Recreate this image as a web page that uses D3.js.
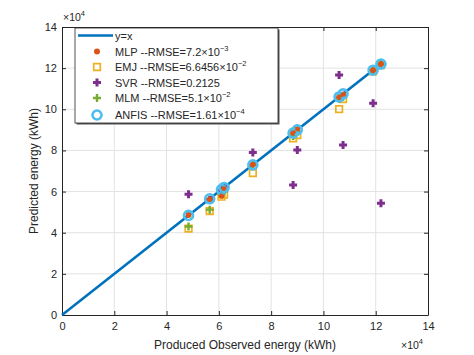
<!DOCTYPE html>
<html><head><meta charset="utf-8">
<script src="https://cdn.jsdelivr.net/npm/d3@7"></script>
<style>body{margin:0;background:#fff}svg{display:block}text{font-family:"Liberation Sans",Arial,sans-serif}</style>
</head><body><svg id="c" width="474" height="355"></svg>
<script>
// Data (x values in units of 1e4 kWh)
const observed = [4.84, 5.65, 6.1, 6.2, 7.3, 8.84, 9.0, 10.6, 10.75, 11.9, 12.2];
const mlp   = [4.86, 5.62, 5.8, 6.15, 7.32, 8.86, 9.04, 10.6, 10.72, 11.9, 12.2];
const emj   = [4.2, 5.05, 5.75, 5.85, 6.9, 8.59, 8.75, 10.01, 10.5, 11.85, 12.15];
const svr   = [5.87, 5.6, 6.05, 6.25, 7.9, 6.32, 8.02, 11.67, 8.26, 10.29, 5.43];
const mlm   = [4.3, 5.12, 5.9, 6.0, 7.3, 8.7, 8.9, 10.5, 10.6, 11.9, 12.2];
const anfis = [4.84, 5.65, 6.1, 6.2, 7.3, 8.84, 9.0, 10.6, 10.75, 11.9, 12.2];
const ticks = [0, 2, 4, 6, 8, 10, 12, 14];
const legendLabels = ["y=x", "MLP --RMSE=7.2\u00d710", "EMJ --RMSE=6.6456\u00d710", "SVR --RMSE=0.2125", "MLM --RMSE=5.1\u00d710", "ANFIS --RMSE=1.61\u00d710"];
const legendSup = ["", "\u22123", "\u22122", "", "\u22122", "\u22124"];

const svg = d3.select("#c");
const L = 62, R = 428, T = 27, B = 315;
const x = d3.scaleLinear().domain([0, 14]).range([L, R]);
const y = d3.scaleLinear().domain([0, 14]).range([B, T]);
const txt = "#262626";

// grid
const g = svg.append("g");
g.selectAll(".gx").data(ticks.slice(1, -1)).join("line")
  .attr("x1", d => x(d)).attr("x2", d => x(d)).attr("y1", T).attr("y2", B)
  .attr("stroke", "#e3e3e3").attr("stroke-width", 1);
g.selectAll(".gy").data(ticks.slice(1, -1)).join("line")
  .attr("y1", d => y(d)).attr("y2", d => y(d)).attr("x1", L).attr("x2", R)
  .attr("stroke", "#e3e3e3").attr("stroke-width", 1);

// axes
const xa = svg.append("g").attr("transform", `translate(0,${B})`)
  .call(d3.axisBottom(x).tickValues(ticks).tickSizeInner(-4).tickSizeOuter(0).tickPadding(7));
const xa2 = svg.append("g").attr("transform", `translate(0,${T})`)
  .call(d3.axisTop(x).tickValues(ticks).tickSizeInner(-4).tickSizeOuter(0).tickFormat(""));
const ya = svg.append("g").attr("transform", `translate(${L},0)`)
  .call(d3.axisLeft(y).tickValues(ticks).tickSizeInner(-4).tickSizeOuter(0).tickPadding(5));
const ya2 = svg.append("g").attr("transform", `translate(${R},0)`)
  .call(d3.axisRight(y).tickValues(ticks).tickSizeInner(-4).tickSizeOuter(0).tickFormat(""));
[xa, xa2, ya, ya2].forEach(a => {
  a.select(".domain").attr("stroke", "#262626").attr("stroke-width", 1);
  a.selectAll(".tick line").attr("stroke", "#262626");
  a.selectAll("text").attr("fill", txt).style("font-size", "11px");
});

// diagonal
svg.append("line").attr("x1", x(0)).attr("y1", y(0)).attr("x2", x(d3.max(observed))).attr("y2", y(d3.max(observed)))
  .attr("stroke", "#0072BD").attr("stroke-width", 2.6);

const cBlue = "#0072BD", cRed = "#D95319", cYel = "#EDB120", cPur = "#7E2F8E", cGrn = "#77AC30", cCyan = "#4DBEEE";
const plusPath = (s, w) => { const a = s, b = w / 2; return `M${-a},${-b}H${-b}V${-a}H${b}V${-b}H${a}V${b}H${b}V${a}H${-b}V${b}H${-a}Z`; };

function drawSeries(vals, kind) {
  const sel = svg.append("g").selectAll("path").data(observed.map((o, i) => [o, vals[i]])).join("path")
    .attr("transform", d => `translate(${x(d[0])},${y(d[1])})`);
  styleMarker(sel, kind);
}
function styleMarker(sel, kind, small) {
  if (kind === "mlp") sel.attr("d", d3.symbol(d3.symbolCircle, small ? 16 : 28)).attr("fill", cRed);
  if (kind === "emj") sel.attr("d", "M-3.3,-3.3H3.3V3.3H-3.3Z").attr("fill", "none").attr("stroke", cYel).attr("stroke-width", 1.7);
  if (kind === "svr") sel.attr("d", plusPath(4, 3)).attr("fill", cPur);
  if (kind === "mlm") sel.attr("d", plusPath(4, 2.4)).attr("fill", cGrn);
  if (kind === "anfis") sel.attr("d", d3.symbol(d3.symbolCircle, 64)).attr("fill", "none").attr("stroke", cCyan).attr("stroke-width", 2.6);
}
function drawSmall(vals, kind) {
  const sel = svg.append("g").selectAll("path").data(observed.map((o, i) => [o, vals[i]])).join("path")
    .attr("transform", d => `translate(${x(d[0])},${y(d[1])})`);
  styleMarker(sel, kind, true);
}
drawSeries(svr, "svr");
drawSeries(emj, "emj");
drawSeries(mlm, "mlm");
drawSeries(mlp, "mlp");
drawSeries(anfis, "anfis");
drawSmall(mlp, "mlp");

// legend
const lg = svg.append("g");
const lx = 75, ly = 28, lw = 203, lh = 95;
lg.append("rect").attr("x", lx + 1.5).attr("y", ly + 1.5).attr("width", lw).attr("height", lh).attr("fill", "#555");
lg.append("rect").attr("x", lx).attr("y", ly).attr("width", lw).attr("height", lh).attr("fill", "#fff").attr("stroke", "#262626").attr("stroke-width", 0.8);
const rowY = [35.5, 51.5, 67, 82.5, 98, 115];
lg.append("line").attr("x1", 78).attr("x2", 113).attr("y1", rowY[0]).attr("y2", rowY[0]).attr("stroke", cBlue).attr("stroke-width", 2.6);
["mlp", "emj", "svr", "mlm", "anfis"].forEach((k, i) => {
  const m = lg.append("path").attr("transform", `translate(97,${rowY[i + 1]})`);
  styleMarker(m, k);
});
legendLabels.forEach((t, i) => {
  const te = lg.append("text").attr("x", 115).attr("y", rowY[i] + 4).attr("fill", txt).style("font-size", "11px").text(t);
  if (legendSup[i]) te.append("tspan").attr("dy", -5).style("font-size", "7.5px").text(legendSup[i]);
});

// exponent labels
function expo(xp, yp) {
  const t = svg.append("text").attr("x", xp).attr("y", yp).attr("fill", txt).style("font-size", "10.5px").text("\u00d710");
  t.append("tspan").attr("dy", -5).style("font-size", "7.5px").text("4");
}
expo(63, 21);
expo(401, 349);

// axis labels
svg.append("text").attr("x", (L + R) / 2).attr("y", 349).attr("text-anchor", "middle").attr("fill", txt).style("font-size", "12px").text("Produced Observed energy (kWh)");
svg.append("text").attr("transform", `translate(38,${(T + B) / 2}) rotate(-90)`).attr("text-anchor", "middle").attr("fill", txt).style("font-size", "12px").text("Predicted energy (kWh)");
</script></body></html>
